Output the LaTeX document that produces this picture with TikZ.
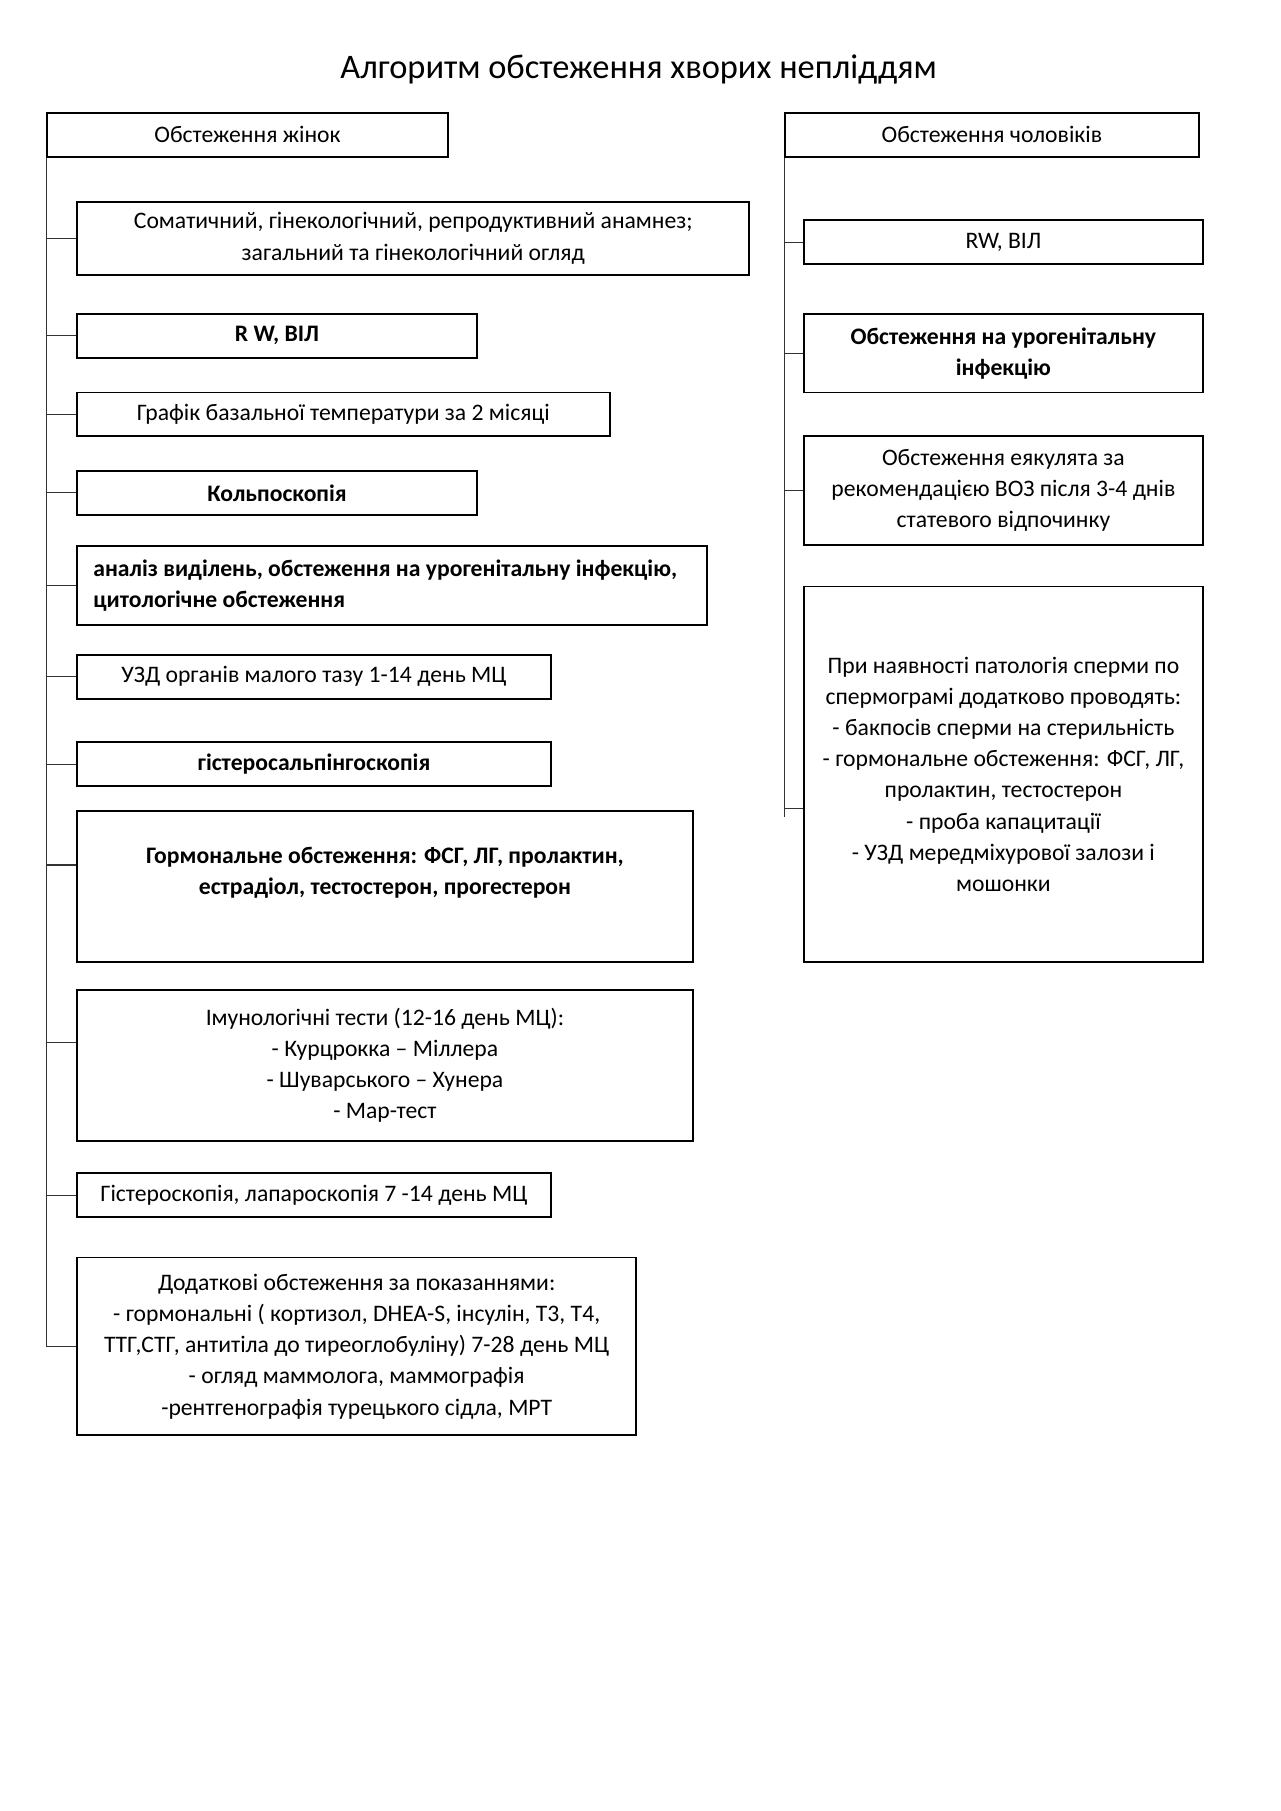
\documentclass[tikz,border=0pt]{standalone}
\usepackage{fontspec}
\setmainfont{Carlito}
\usetikzlibrary{positioning}

\newdimen\pxu
\pxu=0.5369pt

\tikzset{
  box/.style={draw, line width=0.9pt, inner sep=0pt, align=center, anchor=north west,
              font=\fontsize{11}{14.5}\selectfont},
  bbox/.style={box, font=\fontsize{11}{14.5}\selectfont\bfseries},
  spine/.style={draw=black!80, line width=0.5pt}
}

\begin{document}
\begin{tikzpicture}[x=0.5369pt, y=-0.5369pt]
  \useasboundingbox (0,0) rectangle (1108.8,1568.1);

  \node (title) at (553,60) {\fontsize{16}{19}\selectfont Алгоритм обстеження хворих непліддям};

  % headers
  \node[box, minimum width=347\pxu, minimum height=38\pxu] (hw) at (40,97) {Обстеження жінок};
  \node[box, minimum width=358\pxu, minimum height=38\pxu] (hm) at (679,97) {Обстеження чоловіків};

  % women
  \node[box, minimum width=582\pxu, minimum height=63\pxu] (w1) at (66,174) {Соматичний, гінекологічний, репродуктивний анамнез;\\ загальний та гінекологічний огляд};
  \node[bbox, minimum width=346\pxu, minimum height=38\pxu] (w2) at (66,271) {R W, ВІЛ};
  \node[box, minimum width=461\pxu, minimum height=38\pxu] (w3) at (66,339) {Графік базальної температури за 2 місяці};
  \node[bbox, minimum width=346\pxu, minimum height=38\pxu] (w4) at (66,407) {Кольпоскопія};
  \node[bbox, align=flush left, text width=517\pxu, inner xsep=14\pxu, minimum height=68\pxu] (w5) at (66,472) {аналіз виділень, обстеження на урогенітальну інфекцію,\\ цитологічне обстеження};
  \node[box, minimum width=410\pxu, minimum height=38\pxu] (w6) at (66,566) {УЗД органів малого тазу 1-14 день МЦ};
  \node[bbox, minimum width=410\pxu, minimum height=38\pxu] (w7) at (66,642) {гістеросальпінгоскопія};
  \node[bbox, minimum width=533\pxu, minimum height=131\pxu] (w8) at (66,701) {Гормональне обстеження: ФСГ, ЛГ, пролактин,\\ естрадіол, тестостерон, прогестерон\\ ~};
  \node[box, minimum width=533\pxu, minimum height=131\pxu] (w9) at (66,856) {Імунологічні тести (12-16 день МЦ):\\ - Курцрокка – Міллера\\ - Шуварського – Хунера\\ - Мар-тест};
  \node[box, minimum width=410\pxu, minimum height=38\pxu] (w10) at (66,1015) {Гістероскопія, лапароскопія 7 -14 день МЦ};
  \node[box, minimum width=484\pxu, minimum height=154\pxu] (w11) at (66,1088) {Додаткові обстеження за показаннями:\\ - гормональні ( кортизол, DHEA-S, інсулін, Т3, Т4,\\ ТТГ,СТГ, антитіла до тиреоглобуліну) 7-28 день МЦ\\ - огляд маммолога, маммографія\\ -рентгенографія турецького сідла, МРТ};

  % men
  \node[box, minimum width=346\pxu, minimum height=38\pxu] (m1) at (695,190) {RW, ВІЛ};
  \node[bbox, minimum width=346\pxu, minimum height=68\pxu] (m2) at (695,271) {Обстеження на урогенітальну\\ інфекцію};
  \node[box, minimum width=346\pxu, minimum height=94\pxu] (m3) at (695,377) {Обстеження еякулята за\\ рекомендацією ВОЗ після 3-4 днів\\ статевого відпочинку};
  \node[box, minimum width=346\pxu, minimum height=325\pxu] (m4) at (695,507) {При наявності патологія сперми по\\ спермограмі додатково проводять:\\ - бакпосів сперми на стерильність\\ - гормональне обстеження: ФСГ, ЛГ,\\ пролактин, тестостерон\\ - проба капацитації\\ - УЗД мередміхурової залози і\\ мошонки};

  % spines
  \draw[spine] (hw.south west) |- (w11.west);
  \foreach \n in {w1,w2,w3,w4,w5,w6,w7,w10}
    \draw[spine] (hw.south west |- \n.west) -- (\n.west);
  \draw[spine] (hw.south west |- 0,749) -- (w8.west |- 0,749);
  \draw[spine] (hw.south west |- 0,903) -- (w9.west |- 0,903);

  \coordinate (mend) at (679,707);
  \draw[spine] (hm.south west) -- (mend);
  \foreach \n in {m1,m2,m3}
    \draw[spine] (hm.south west |- \n.west) -- (\n.west);
  \draw[spine] (hm.south west |- 0,700) -- (m4.west |- 0,700);
\end{tikzpicture}
\end{document}
